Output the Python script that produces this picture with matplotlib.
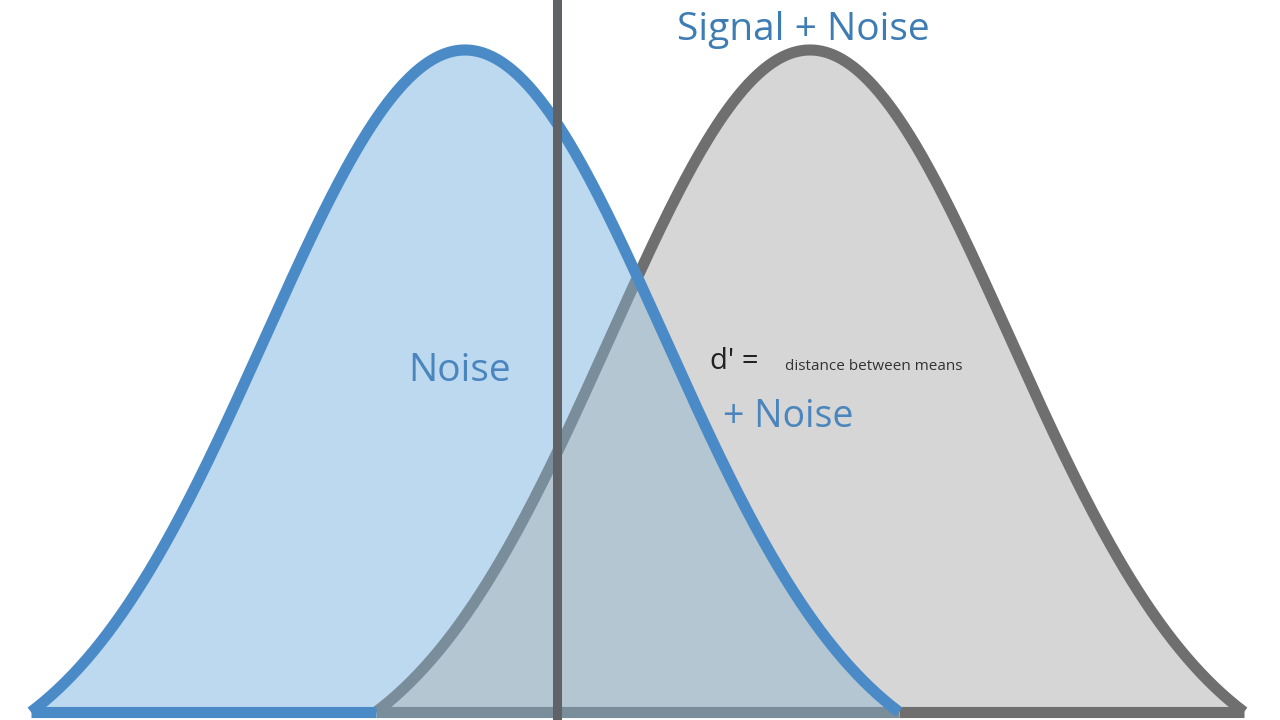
import numpy as np
import matplotlib
matplotlib.use("Agg")
import matplotlib.pyplot as plt

# Distribution parameters (in units of the noise SD)
dist_names = ["Noise", "Signal + Noise"]
dist_means = [0.0, 1.725]
dist_sds = [1.0, 1.0]
tail_cut = 2.17          # curves are drawn out to +/- this many SDs
criterion = 0.46

blue_line = "#4a8ac6"
blue_fill = "#bcd9ef"
gray_line = "#6f6f6f"
gray_fill = "#d6d6d6"
overlap_fill = "#b3c6d2"
overlap_line = "#7a8d9b"

plt.rcParams["font.family"] = ["Open Sans", "DejaVu Sans"]

fig = plt.figure(figsize=(12.8, 7.2), dpi=100)
ax = fig.add_axes([0, 0, 1, 1])
ax.set_xlim(-2.325, 4.075)
ax.set_ylim(-0.0121, 1.0755)
ax.axis("off")

g_end = np.exp(-0.5 * tail_cut ** 2)


def height(x, mu, sd):
    z = (x - mu) / sd
    g = (np.exp(-0.5 * z ** 2) - g_end) / (1 - g_end)
    return np.where(np.abs(z) <= tail_cut, g, 0.0)


def span(mu, sd):
    return np.linspace(mu - tail_cut * sd, mu + tail_cut * sd, 500)


xn = span(dist_means[0], dist_sds[0])
xs = span(dist_means[1], dist_sds[1])
yn = height(xn, dist_means[0], dist_sds[0])
ys = height(xs, dist_means[1], dist_sds[1])

# fills
ax.fill_between(xs, 0, ys, color=gray_fill, lw=0, zorder=1)
ax.fill_between(xn, 0, yn, color=blue_fill, lw=0, zorder=2)
xo = np.linspace(xs[0], xn[-1], 500)
yo = np.minimum(height(xo, dist_means[0], dist_sds[0]), height(xo, dist_means[1], dist_sds[1]))
ax.fill_between(xo, 0, yo, color=overlap_fill, lw=0, zorder=3)

# signal outline: tinted where it lies under the noise fill
under = (ys <= height(xs, dist_means[0], dist_sds[0]) + 1e-9) & (xs <= xn[-1])
ax.plot(xs, np.where(under, np.nan, ys), color=gray_line, lw=8, solid_capstyle="butt", zorder=4)
ax.plot(xs, np.where(under, ys, np.nan), color=overlap_line, lw=8, solid_capstyle="butt", zorder=4)
ax.plot([xn[-1], xs[-1]], [0, 0], color=gray_line, lw=8, solid_capstyle="butt", zorder=4)
ax.plot([xs[0], xn[-1]], [0, 0], color=overlap_line, lw=8, solid_capstyle="butt", zorder=4)

# noise outline
ax.plot(xn, yn, color=blue_line, lw=8, solid_capstyle="butt", zorder=5)
ax.plot([xn[0], xs[0]], [0, 0], color=blue_line, lw=8, solid_capstyle="butt", zorder=5)

# criterion line
ax.axvline(criterion, color="#5f6368", lw=6.5, zorder=6)

# labels
ax.text(dist_means[0] - 0.025, 0.515, "Noise", color="#4a86bd", fontsize=28,
        ha="center", va="center", zorder=7)
ax.text(1.69, 1.03, "Signal + Noise", color="#3d7db4", fontsize=28,
        ha="center", va="center", zorder=7)
ax.text(1.225, 0.53, "d' =", color="#222222", fontsize=21, ha="left", va="center", zorder=7)
ax.text(1.6, 0.522, "distance between means", color="#333333", fontsize=11,
        ha="left", va="center", zorder=7)
ax.text(1.29, 0.445, "+ Noise", color="#4a86bd", fontsize=27, ha="left", va="center", zorder=7)

fig.savefig("out.png", dpi=100)
